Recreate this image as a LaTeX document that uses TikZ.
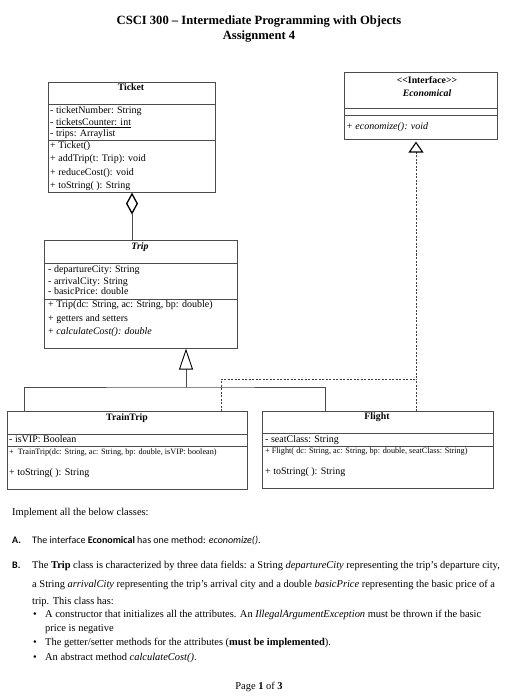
\documentclass[tikz,border=0pt]{standalone}
\usepackage{fontspec}
\setmainfont{Liberation Serif}
\newfontfamily\calibri{Carlito}
\usepackage{tikz}
\usetikzlibrary{arrows.meta,calc}

\begin{document}
\begin{tikzpicture}[x=1pt,y=-1pt,
		umlbox/.style={draw=black!70,line width=0.6pt,inner sep=0pt,anchor=north west},
		member/.style={anchor=west,inner sep=0pt,text height=7pt,text depth=2pt,font=\fontsize{10}{11}\selectfont},
		small/.style={anchor=west,inner sep=0pt,text height=6pt,text depth=2pt,font=\fontsize{8.2}{9}\selectfont},
		classname/.style={inner sep=0pt,text height=7pt,text depth=2pt,font=\fontsize{9.8}{11}\selectfont\bfseries},
		body/.style={anchor=west,inner sep=0pt,text height=7pt,text depth=2pt,font=\fontsize{10.45}{12}\selectfont},
		rule/.style={black!70,line width=0.6pt},
		realize/.style={black!75,line width=0.7pt,dash pattern=on 2pt off 1.5pt}]
			\useasboundingbox (0,0) rectangle (507,700);
			\node[inner sep=0pt,text height=8pt,text depth=3pt,font=\fontsize{12.6}{14}\selectfont\bfseries] (title) at (259,22) {CSCI 300 -- Intermediate Programming with Objects};
			\node[inner sep=0pt,text height=8pt,text depth=3pt,font=\fontsize{12.6}{14}\selectfont\bfseries] (subtitle) at (259,37) {Assignment 4};
			\node[umlbox,minimum width=167pt,minimum height=110pt] (ticket) at (48,82) {};
			\draw[rule] (48,104) -- (215,104);
			\draw[rule] (48,140) -- (215,140);
			\node[classname] (ticketname) at (131,88) {Ticket};
			\node[member] (tk1) at (50,111) {- ticketNumber: String};
			\node[member] (tk2) at (50,123) {- \underline{ticketsCounter: int}};
			\node[member] (tk3) at (50,134) {- trips: Arraylist};
			\node[member] (tk4) at (50,146) {+ Ticket()};
			\node[member] (tk5) at (50,159) {+ addTrip(t: Trip): void};
			\node[member] (tk6) at (50,173) {+ reduceCost(): void};
			\node[member] (tk7) at (50,186) {+ toString( ): String};
			\node[umlbox,minimum width=193pt,minimum height=108pt] (trip) at (44,240) {};
			\draw[rule] (44,263) -- (237,263);
			\draw[rule] (44,299) -- (237,299);
			\node[classname,font=\fontsize{9.8}{11}\selectfont\bfseries\itshape] (tripname) at (140,247) {Trip};
			\node[member] (tp1) at (48,270) {- departureCity: String};
			\node[member] (tp2) at (48,282) {- arrivalCity: String};
			\node[member] (tp3) at (48,292) {- basicPrice: double};
			\node[member] (tp4) at (48,305) {+ Trip(dc: String, ac: String, bp: double)};
			\node[member] (tp5) at (48,319) {+ getters and setters};
			\node[member] (tp6) at (48,332) {+ \textit{calculateCost(): double}};
			\node[umlbox,minimum width=153pt,minimum height=67pt] (econ) at (344,72) {};
			\draw[rule] (344,108) -- (497,108);
			\draw[rule] (344,115) -- (497,115);
			\node[classname] (econst) at (427,81) {\textless\kern0pt\textless Interface\textgreater\kern0pt\textgreater};
			\node[classname,font=\fontsize{9.8}{11}\selectfont\bfseries\itshape] (econname) at (427,94) {Economical};
			\node[member,font=\fontsize{10}{11}\selectfont\itshape] (ec1) at (346,127) {+ economize(): void};
			\node[umlbox,minimum width=240pt,minimum height=78pt] (train) at (7,411) {};
			\draw[rule] (7,434) -- (247,434);
			\draw[rule] (7,446) -- (247,446);
			\node[classname] (trainname) at (127,418) {TrainTrip};
			\node[member] (tt1) at (9,440) {- isVIP: Boolean};
			\node[small] (tt2) at (9,452) {+\ \ TrainTrip(dc: String, ac: String, bp: double, isVIP: boolean)};
			\node[member] (tt3) at (9,473) {+ toString( ): String};
			\node[umlbox,minimum width=231pt,minimum height=77pt] (flight) at (262,411) {};
			\draw[rule] (262,433) -- (493,433);
			\draw[rule] (262,446) -- (493,446);
			\node[classname] (flightname) at (377,417) {Flight};
			\node[member] (fl1) at (265,440) {- seatClass: String};
			\node[small] (fl2) at (265,451) {+ Flight( dc: String, ac: String, bp: double, seatClass: String)};
			\node[member] (fl3) at (265,472) {+ toString( ): String};
			\coordinate (aggx) at (132,0);
			\draw[rule,{Diamond[open,length=22pt,width=12pt,line width=1.3pt,black]}-] (ticket.south -| aggx) -- (trip.north -| aggx);
			\coordinate (gen) at (186,387);
			\coordinate (trainup) at (24,0);
			\coordinate (flightup) at (325,0);
			\draw[rule,-{Triangle[open,length=21pt,width=14pt,line width=0.9pt,black]}] (gen) -- (gen |- trip.south);
			\draw[rule] (trainup |- train.north) |- (gen) -| (flightup |- flight.north);
			\coordinate (real) at (416,379);
			\coordinate (realtrain) at (221,0);
			\draw[realize] (real |- flight.north) -- (real);
			\draw[realize,-{Triangle[open,length=11pt,width=15pt,line width=1.1pt,black]}] ($(real)+(0,-1)$) -- ($(real |- econ.south)+(0,2)$);
			\draw[realize] (realtrain |- train.north) |- (real);
			\node[body] (intro) at (12,513) {Implement all the below classes:};
			\node[body,font=\fontsize{10}{12}\calibri\bfseries] (itemA) at (12,541) {A.};
			\node[body,font=\fontsize{10}{12}\calibri] (textA) at (32,541) {The interface \textbf{Economical} has one method: \textit{economize()}.};
			\node[body,font=\fontsize{10}{12}\calibri\bfseries] (itemB) at (12,566) {B.};
			\node[body] (textB1) at (32,566) {The \textbf{Trip} class is characterized by three data fields: a String \textit{departureCity} representing the trip’s departure city,};
			\node[body] (textB2) at (32,585) {a String \textit{arrivalCity} representing the trip’s arrival city and a double \textit{basicPrice} representing the basic price of a};
			\node[body] (textB3) at (32,602) {trip. This class has:};
			\node[body] (dot1) at (33,615) {\textbullet};
			\node[body] (bul1) at (45,615) {A constructor that initializes all the attributes. An \textit{IllegalArgumentException} must be thrown if the basic};
			\node[body] (bul1b) at (45,629) {price is negative};
			\node[body] (dot2) at (33,643) {\textbullet};
			\node[body] (bul2) at (45,643) {The getter/setter methods for the attributes (\textbf{must be implemented}).};
			\node[body] (dot3) at (33,658) {\textbullet};
			\node[body] (bul3) at (45,658) {An abstract method \textit{calculateCost()}.};
			\node[body,anchor=center] (page) at (259,687) {Page \textbf{1} of \textbf{3}};
		\end{tikzpicture}
\end{document}
